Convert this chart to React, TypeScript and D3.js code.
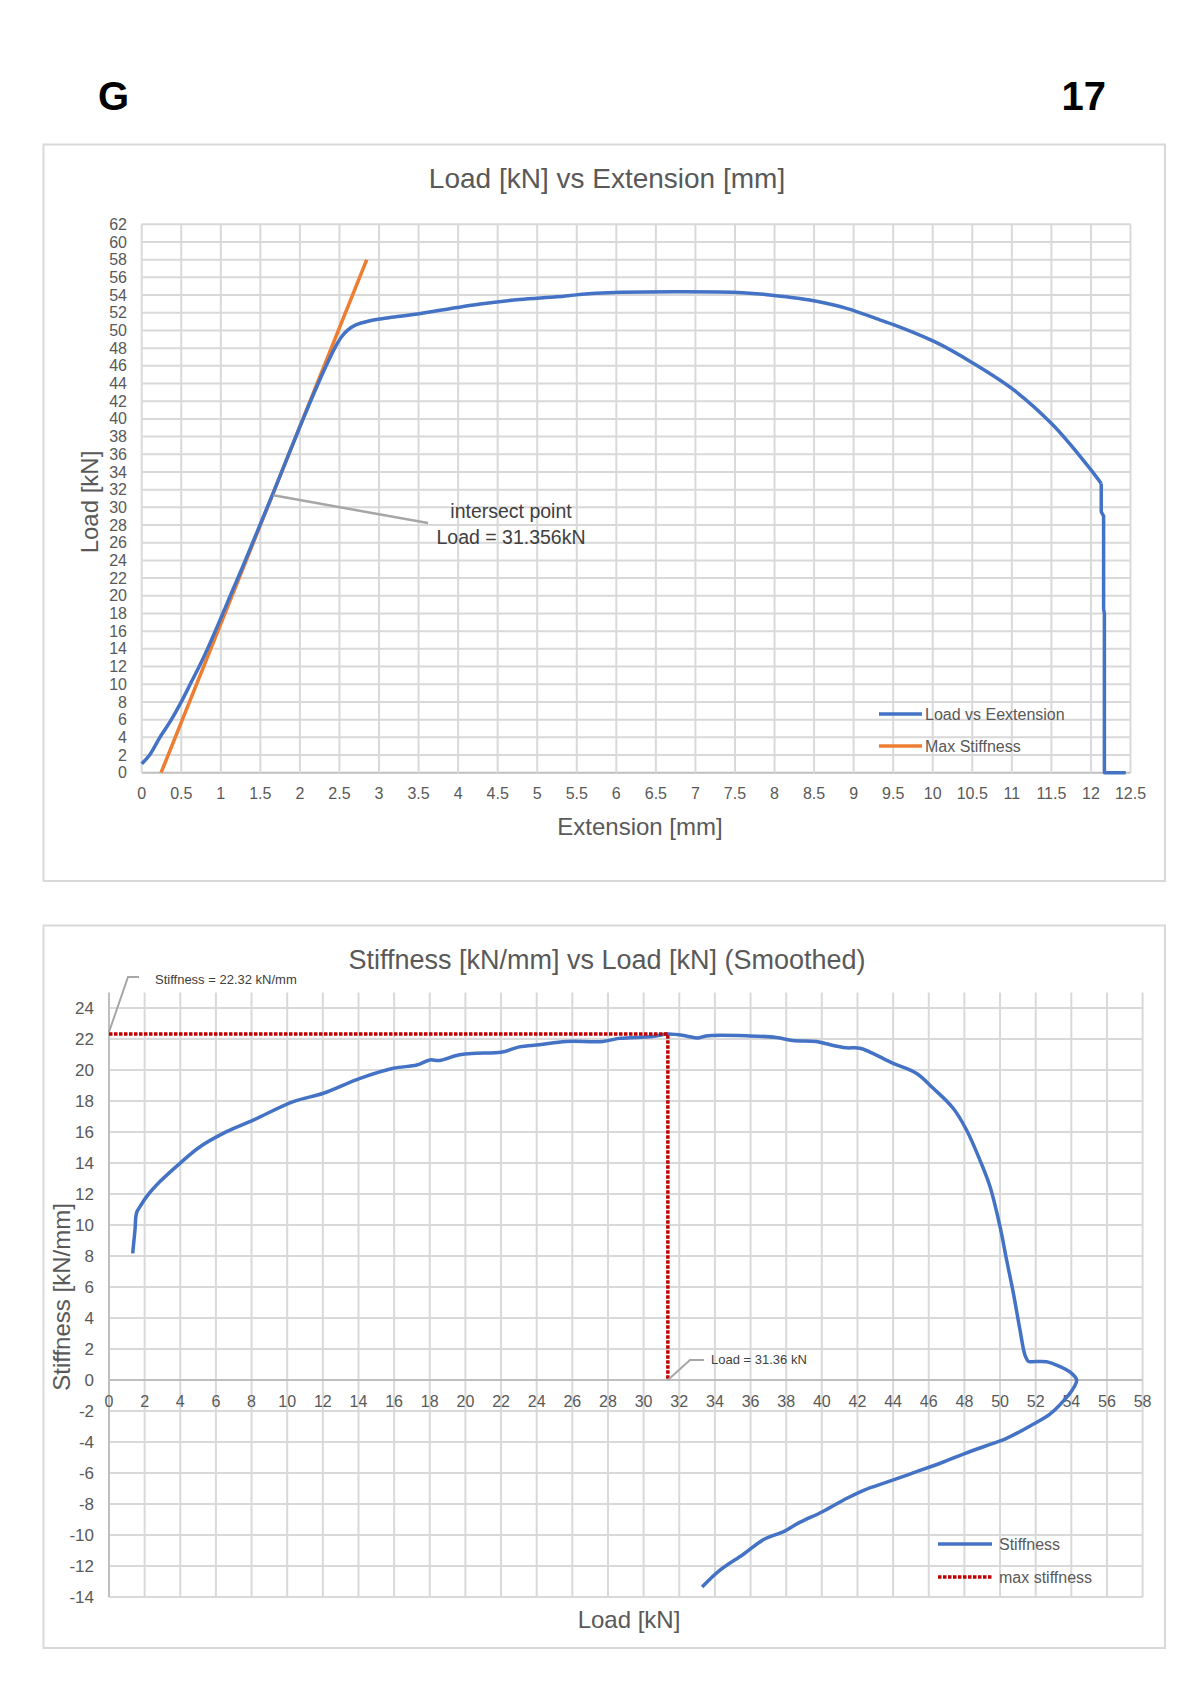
import React from 'react';
import * as d3 from 'd3';

// ---- data: load vs extension ----
const extensionMm = [
  0, 0.1, 0.23, 0.375, 0.5, 0.613, 0.727, 0.832, 0.93, 1.025, 1.12, 1.31, 1.495, 1.65,
  1.859, 2.041, 2.231, 2.332, 2.44, 2.52, 2.6, 2.7, 2.886, 3.1, 3.43, 4.28, 4.78, 5.25,
  5.52, 5.9, 7.6, 7.94, 8.32, 8.53, 8.91, 9.33, 9.52, 10.03, 10.51, 11.02, 11.52, 11.95,
  12.13, 12.13, 12.16, 12.16, 12.17, 12.17, 12.44
];
const loadKn = [
  1.0, 2, 4, 6, 8, 10, 12, 14, 16, 18, 20, 24, 28, 31.36,
  36, 40, 44, 46, 48, 49.2, 50.0, 50.6, 51.1, 51.4, 51.8, 53.0, 53.5, 53.8,
  54.05, 54.27, 54.27, 54.0, 53.6, 53.3, 52.5, 51.2, 50.6, 48.7, 46.3, 43.3, 39.3, 34.8,
  32.7, 29.5, 29.0, 18.5, 18.0, 0, 0
];
// index where the specimen breaks (smooth curve before, straight drops after)
const fractureIndex = 42;

// max stiffness tangent line
const maxStiffExt = [0.245, 2.845];
const maxStiffLoad = [0, 58];

// ---- data: smoothed stiffness vs load ----
const stiffLoadKn = [
  1.33, 1.4, 1.46, 1.55, 1.75, 2.11, 2.86, 3.98, 5.11, 6.6, 8.1, 10.34, 12.03, 14.09,
  15.95, 17.27, 18.01, 18.54, 19.66, 20.6, 22.0, 23.03, 24.15, 25.65, 27.7, 28.64, 30.51,
  31.36, 32.39, 33.04, 33.5, 35.94, 37.44, 38.37, 39.68, 40.24, 41.37, 42.14, 44.0, 45.32,
  46.25, 47.37, 48.12, 48.87, 49.44, 50.0, 50.37, 50.75, 51.12, 51.4, 51.6, 51.78, 52.61,
  53.37, 54.02, 54.3, 54.11, 53.6, 52.8, 51.86, 50.31, 49.53, 47.98, 46.82, 45.28, 43.73,
  42.38, 41.41, 40.06, 38.7, 37.92, 36.76, 35.6, 34.25, 33.28
];
const stiffnessKnMm = [
  8.17, 9.0, 9.7, 10.8, 11.2, 11.83, 12.8, 13.98, 15.05, 16.02, 16.77, 17.96, 18.5, 19.46,
  20.11, 20.32, 20.65, 20.61, 20.98, 21.08, 21.14, 21.49, 21.63, 21.84, 21.84, 22.04, 22.16,
  22.32, 22.2, 22.06, 22.2, 22.2, 22.1, 21.9, 21.84, 21.69, 21.43, 21.4, 20.43, 19.78,
  18.82, 17.53, 16.13, 14.19, 12.47, 9.89, 7.74, 5.59, 3.23, 1.61, 1.2, 1.18, 1.18,
  0.86, 0.43, 0.0, -0.54, -1.3, -2.2, -2.85, -3.8, -4.12, -4.76, -5.29, -5.93, -6.56,
  -7.1, -7.63, -8.48, -9.22, -9.75, -10.28, -11.24, -12.3, -13.36
];
const maxStiffness = 22.32;
const maxStiffnessLoad = 31.36;

// ---- ticks ----
const topXTicks = [0, 0.5, 1, 1.5, 2, 2.5, 3, 3.5, 4, 4.5, 5, 5.5, 6, 6.5, 7, 7.5, 8, 8.5, 9, 9.5, 10, 10.5, 11, 11.5, 12, 12.5];
const topYTicks = [0, 2, 4, 6, 8, 10, 12, 14, 16, 18, 20, 22, 24, 26, 28, 30, 32, 34, 36, 38, 40, 42, 44, 46, 48, 50, 52, 54, 56, 58, 60, 62];
const botXTicks = [0, 2, 4, 6, 8, 10, 12, 14, 16, 18, 20, 22, 24, 26, 28, 30, 32, 34, 36, 38, 40, 42, 44, 46, 48, 50, 52, 54, 56, 58];
const botYTicks = [-14, -12, -10, -8, -6, -4, -2, 0, 2, 4, 6, 8, 10, 12, 14, 16, 18, 20, 22, 24];

const FONT = '"Liberation Sans", Arial, sans-serif';
const GRID = '#d9d9d9';
const AXIS = '#bfbfbf';
const LABEL = '#595959';
const BLUE = '#4472c4';
const ORANGE = '#ed7d31';
const RED = '#c00000';

export default function App() {
  // top chart scales
  const xTop = d3.scaleLinear().domain([0, 12.5]).range([141.7, 1130.5]);
  const yTop = d3.scaleLinear().domain([0, 62]).range([772.7, 224.3]);
  // bottom chart scales
  const xBot = d3.scaleLinear().domain([0, 58]).range([109, 1142.6]);
  const yBot = d3.scaleLinear().domain([-14, 25]).range([1597, 992.5]);

  const topPoints: [number, number][] = extensionMm.map((e, i) => [e, loadKn[i]]);
  const smoothLine = d3.line<[number, number]>()
    .x(d => xTop(d[0]))
    .y(d => yTop(d[1]))
    .curve(d3.curveCatmullRom.alpha(0.5));
  const straightLine = d3.line<[number, number]>()
    .x(d => xTop(d[0]))
    .y(d => yTop(d[1]));
  const tangentLine = d3.line<number>()
    .x((_, i) => xTop(maxStiffExt[i]))
    .y(d => yTop(d));
  const stiffLine = d3.line<number>()
    .x((_, i) => xBot(stiffLoadKn[i]))
    .y(d => yBot(d))
    .curve(d3.curveCatmullRom.alpha(0.5));

  const [tx0, tx1] = xTop.range();
  const [ty0, ty1] = yTop.range();
  const [bx0, bx1] = xBot.range();
  const [by0, by1] = yBot.range();

  const xMax = xBot(maxStiffnessLoad);
  const yMax = yBot(maxStiffness);
  const xInt = xTop(1.664);
  const yInt = yTop(31.356);

  return (
    <svg width={1200} height={1696} style={{ position: 'absolute', left: 0, top: 0, background: '#fff' }} fontFamily={FONT}>
      {/* page headers */}
      <text x={98} y={110} fontSize={40} fontWeight="bold" fill="#000">G</text>
      <text x={1106} y={110} fontSize={40} fontWeight="bold" fill="#000" textAnchor="end">17</text>

      {/* ===== top chart ===== */}
      <rect x={43.5} y={144.5} width={1121.5} height={736.5} fill="#fff" stroke={GRID} strokeWidth={2} />
      <text x={607} y={187.5} fontSize={28} fill={LABEL} textAnchor="middle">Load [kN] vs Extension [mm]</text>

      {topYTicks.map(t => (
        <line key={'ty' + t} x1={tx0} x2={tx1} y1={yTop(t)} y2={yTop(t)} stroke={t === 0 ? AXIS : GRID} strokeWidth={2} />
      ))}
      {topXTicks.map(t => (
        <line key={'tx' + t} x1={xTop(t)} x2={xTop(t)} y1={ty1} y2={ty0} stroke={GRID} strokeWidth={2} />
      ))}
      {topYTicks.map(t => (
        <text key={'tyl' + t} x={127} y={yTop(t)} dy="0.35em" fontSize={16} fill={LABEL} textAnchor="end">{t}</text>
      ))}
      {topXTicks.map(t => (
        <text key={'txl' + t} x={xTop(t)} y={793} dy="0.35em" fontSize={16} fill={LABEL} textAnchor="middle">{t}</text>
      ))}

      <text x={640} y={835} fontSize={24} fill={LABEL} textAnchor="middle">Extension [mm]</text>
      <text transform="translate(98,502) rotate(-90)" fontSize={24} fill={LABEL} textAnchor="middle">Load [kN]</text>

      <path d={tangentLine(maxStiffLoad) || ''} fill="none" stroke={ORANGE} strokeWidth={3.5} />
      <path d={smoothLine(topPoints.slice(0, fractureIndex + 1)) || ''} fill="none" stroke={BLUE} strokeWidth={3.5} strokeLinejoin="round" />
      <path d={straightLine(topPoints.slice(fractureIndex)) || ''} fill="none" stroke={BLUE} strokeWidth={3.5} strokeLinejoin="round" />

      {/* intersect annotation */}
      <polyline points={`${xInt},${yInt} ${428},${523}`} fill="none" stroke="#a6a6a6" strokeWidth={2.5} />
      <text x={511} y={511} dy="0.35em" fontSize={19.5} fill="#404040" textAnchor="middle">intersect point</text>
      <text x={511} y={537} dy="0.35em" fontSize={19.5} fill="#404040" textAnchor="middle">Load = 31.356kN</text>

      {/* top legend */}
      <line x1={879} x2={922} y1={714} y2={714} stroke={BLUE} strokeWidth={3.5} />
      <text x={925} y={714} dy="0.35em" fontSize={16} fill={LABEL}>Load vs Eextension</text>
      <line x1={879} x2={922} y1={746} y2={746} stroke={ORANGE} strokeWidth={3.5} />
      <text x={925} y={746} dy="0.35em" fontSize={16} fill={LABEL}>Max Stiffness</text>

      {/* ===== bottom chart ===== */}
      <rect x={43.5} y={925.5} width={1121.5} height={722.5} fill="#fff" stroke={GRID} strokeWidth={2} />
      <text x={607} y={969} fontSize={27} fill={LABEL} textAnchor="middle">Stiffness [kN/mm] vs Load [kN] (Smoothed)</text>

      {botYTicks.map(t => (
        <line key={'by' + t} x1={bx0} x2={bx1} y1={yBot(t)} y2={yBot(t)} stroke={GRID} strokeWidth={2} />
      ))}
      {botXTicks.map(t => (
        <line key={'bx' + t} x1={xBot(t)} x2={xBot(t)} y1={by1} y2={by0} stroke={t === 0 ? AXIS : GRID} strokeWidth={2} />
      ))}
      <line x1={bx0} x2={bx1} y1={yBot(0)} y2={yBot(0)} stroke={AXIS} strokeWidth={2} />
      {botYTicks.map(t => (
        <text key={'byl' + t} x={94} y={yBot(t)} dy="0.35em" fontSize={17} fill={LABEL} textAnchor="end">{t}</text>
      ))}
      {botXTicks.map(t => (
        <text key={'bxl' + t} x={xBot(t)} y={yBot(0) + 21} dy="0.35em" fontSize={16} fill={LABEL} textAnchor="middle">{t}</text>
      ))}

      <text x={629} y={1628} fontSize={24} fill={LABEL} textAnchor="middle">Load [kN]</text>
      <text transform="translate(70,1297) rotate(-90)" fontSize={24} fill={LABEL} textAnchor="middle">Stiffness [kN/mm]</text>

      <path d={stiffLine(stiffnessKnMm) || ''} fill="none" stroke={BLUE} strokeWidth={3.5} strokeLinejoin="round" />

      {/* max stiffness markers */}
      <polyline points={`${bx0},${yMax} ${xMax},${yMax} ${xMax},${yBot(0)}`} fill="none" stroke={RED} strokeWidth={3.5} strokeDasharray="3.5 1.5" />

      {/* annotations */}
      <polyline points={`${bx0},${yMax - 2} ${128},${977} ${139},${977}`} fill="none" stroke="#a6a6a6" strokeWidth={2} />
      <text x={155} y={979} dy="0.35em" fontSize={13} fill="#404040">Stiffness = 22.32 kN/mm</text>
      <polyline points={`${xMax},${yBot(0)} ${690},${1360} ${704},${1360}`} fill="none" stroke="#a6a6a6" strokeWidth={2} />
      <text x={711} y={1359} dy="0.35em" fontSize={13} fill="#404040">Load = 31.36 kN</text>

      {/* bottom legend */}
      <line x1={938} x2={992} y1={1544} y2={1544} stroke={BLUE} strokeWidth={3.5} />
      <text x={999} y={1544} dy="0.35em" fontSize={16} fill={LABEL}>Stiffness</text>
      <line x1={938} x2={992} y1={1577} y2={1577} stroke={RED} strokeWidth={3.5} strokeDasharray="3.5 1.5" />
      <text x={999} y={1577} dy="0.35em" fontSize={16} fill={LABEL}>max stiffness</text>
    </svg>
  );
}
